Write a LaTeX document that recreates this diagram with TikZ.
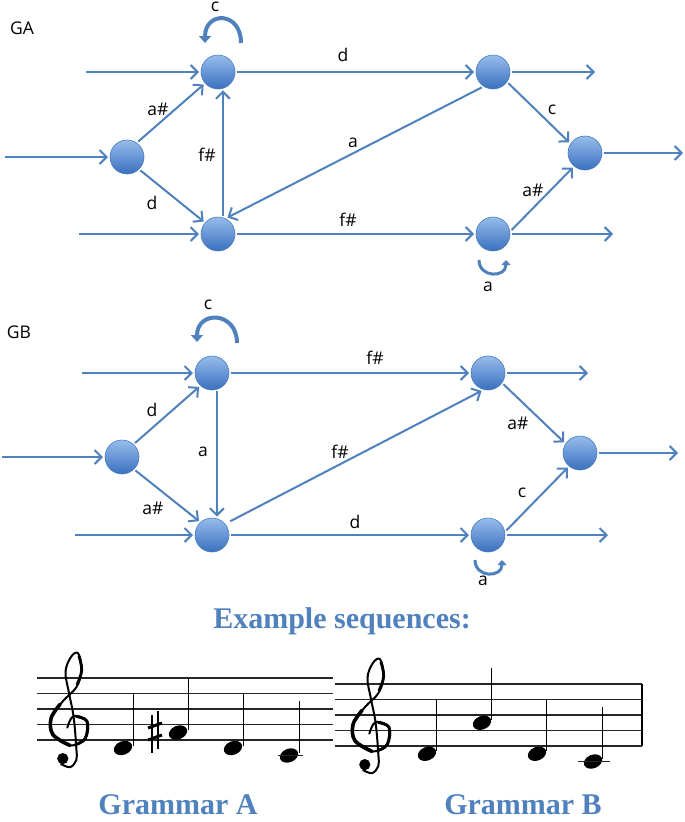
\documentclass[tikz,border=0pt]{standalone}
\usepackage{fontspec}
\setmainfont{Liberation Serif}
\newfontfamily\labfont{Open Sans}
\usetikzlibrary{arrows.meta,shapes.geometric}
\definecolor{edgeblue}{RGB}{79,129,189}
\definecolor{ballTop}{RGB}{150,188,236}
\definecolor{ballBot}{RGB}{58,112,190}
\definecolor{ballRim}{RGB}{74,126,187}
\definecolor{titleblue}{RGB}{79,129,189}
\tikzset{
  state/.style={circle, minimum size=34pt, inner sep=0pt, top color=ballTop, bottom color=ballBot, draw=ballRim, line width=0.6pt, outer sep=2pt},
  edge/.style={draw=edgeblue, line width=2pt, -{Straight Barb[length=7pt,width=14pt]}},
  lbl/.style={font=\labfont\fontsize{17.5}{19}\selectfont, text=black, inner sep=0pt},
  bigloop/.style={draw=edgeblue, line width=4pt, -{Triangle[length=7pt,width=12pt]}},
  smallloop/.style={draw=edgeblue, line width=3pt, -{Triangle[length=5pt,width=9pt]}},
  title/.style={font=\fontsize{30}{34}\selectfont\bfseries, text=titleblue, inner sep=0pt},
  staffline/.style={draw=black!85, line width=1.3pt},
  notehead/.style={ellipse, fill=black, minimum width=19pt, minimum height=13.5pt, inner sep=0pt, rotate=22},
  stem/.style={draw=black, line width=1.3pt},
  trebleclef/.pic={
    \begin{scope}[x=18pt,y=15.5pt, line cap=round, line join=round]
      \draw[line width=2pt] plot[smooth, tension=0.6] coordinates {(-0.15,0.8) (0.2,1.55) (0.95,1.2) (0.85,0.1) (0,-0.35) (-0.95,0.35) (-1.05,1.4) (-0.4,2.5) (0.35,3.4) (0.65,4.5) (0.45,5.6) (0.05,5.35) (-0.25,4.4) (-0.05,3.0) (0.2,1.5) (0.35,-0.5) (0.35,-1.3) (0,-1.75) (-0.5,-1.55)};
      \draw[line width=3.6pt] plot[smooth, tension=0.6] coordinates {(0.0,-0.35) (-0.95,0.35) (-1.05,1.4) (-0.55,2.3)};
      \draw[line width=3pt] plot[smooth, tension=0.6] coordinates {(0.35,1.52) (0.95,1.2) (0.85,0.1) (0.3,-0.3)};
      \draw[line width=2.8pt] plot[smooth, tension=0.6] coordinates {(0.4,3.6) (0.65,4.5) (0.5,5.4)};
      \fill (-0.4,-1.2) circle[radius=5.6pt];
    \end{scope}
  }
}
\begin{document}
\begin{tikzpicture}[x=1pt,y=-1pt]
\useasboundingbox (0,0) rectangle (685,822);
\fill[white] (0,0) rectangle (685,822);

% ================= GA =================
\node[lbl] (gaName) at (22,28) {GA};
\node[state] (gaS) at (127,157) {};
\node[state] (gaU) at (218,72) {};
\node[state] (gaL) at (218,234) {};
\node[state] (gaR1) at (493,72) {};
\node[state] (gaR2) at (585,153) {};
\node[state] (gaR3) at (493,234) {};
\coordinate (gaIn1) at (86,72);
\coordinate (gaIn2) at (5,157);
\coordinate (gaIn3) at (79,234);
\coordinate (gaOut1) at (595,72);
\coordinate (gaOut2) at (683,153);
\coordinate (gaOut3) at (613,234);

\draw[edge] (gaIn1) -- (gaU);
\draw[edge] (gaIn2) -- (gaS);
\draw[edge] (gaIn3) -- (gaL);
\draw[edge] (gaS.54) -- (gaU.221);
\draw[edge] (gaS.315) -- (gaL.139);
\draw[edge] (gaL.75) -- (gaU.285);
\draw[edge] (gaU) -- (gaR1);
\draw[edge] (gaR1.234) -- (gaL.60);
\draw[edge] (gaL) -- (gaR3);
\draw[edge] (gaR1.324) -- (gaR2.146);
\draw[edge] (gaR3.12) -- (gaR2.230);
\draw[edge] (gaR1) -- (gaOut1);
\draw[edge] (gaR2) -- (gaOut2);
\draw[edge] (gaR3) -- (gaOut3);
\draw[bigloop] ([shift={(23,-29)}]gaU.center) .. controls +(0,-32) and +(0,-32) .. ([shift={(-13,-29)}]gaU.center);
\draw[smallloop] ([shift={(-14,26)}]gaR3.center) .. controls +(0,18) and +(0,18) .. ([shift={(13,26)}]gaR3.center);

\node[lbl] (gaLc) at (215,7) {c};
\node[lbl] (gaLsu) at (158,109) {a\#};
\node[lbl] (gaLsl) at (152,203) {d};
\node[lbl] (gaLlu) at (207,155) {f\#};
\node[lbl] (gaLur) at (343,55) {d};
\node[lbl] (gaLrl) at (353,143) {a};
\node[lbl] (gaLlr) at (348,220) {f\#};
\node[lbl] (gaLr12) at (552,110) {c};
\node[lbl] (gaLr32) at (533,190) {a\#};
\node[lbl] (gaLa) at (488,287) {a};

% ================= GB =================
\node[lbl] (gbName) at (19,332) {GB};
\node[state] (gbS) at (122,457) {};
\node[state] (gbU) at (212,373) {};
\node[state] (gbL) at (212,535) {};
\node[state] (gbR1) at (488,373) {};
\node[state] (gbR2) at (580,453) {};
\node[state] (gbR3) at (488,535) {};
\coordinate (gbIn1) at (82,373);
\coordinate (gbIn2) at (2,457);
\coordinate (gbIn3) at (75,535);
\coordinate (gbOut1) at (588,373);
\coordinate (gbOut2) at (678,453);
\coordinate (gbOut3) at (608,535);

\draw[edge] (gbIn1) -- (gbU);
\draw[edge] (gbIn2) -- (gbS);
\draw[edge] (gbIn3) -- (gbL);
\draw[edge] (gbS.47) -- (gbU.227);
\draw[edge] (gbS.315) -- (gbL.133);
\draw[edge] (gbU.285) -- (gbL.75);
\draw[edge] (gbU) -- (gbR1);
\draw[edge, shorten <=4pt] (gbL.39) -- (gbR1.250);
\draw[edge] (gbL) -- (gbR3);
\draw[edge] (gbR1.324) -- (gbR2.146);
\draw[edge] (gbR3.14) -- (gbR2.230);
\draw[edge] (gbR1) -- (gbOut1);
\draw[edge] (gbR2) -- (gbOut2);
\draw[edge] (gbR3) -- (gbOut3);
\draw[bigloop] ([shift={(25,-30)}]gbU.center) .. controls +(0,-32) and +(0,-32) .. ([shift={(-15,-31)}]gbU.center);
\draw[smallloop] ([shift={(-13,25)}]gbR3.center) .. controls +(0,18) and +(0,18) .. ([shift={(14,25)}]gbR3.center);

\node[lbl] (gbLc) at (208,305) {c};
\node[lbl] (gbLsu) at (152,410) {d};
\node[lbl] (gbLsl) at (153,508) {a\#};
\node[lbl] (gbLul) at (203,452) {a};
\node[lbl] (gbLur) at (375,358) {f\#};
\node[lbl] (gbLlr1) at (340,452) {f\#};
\node[lbl] (gbLlr) at (355,522) {d};
\node[lbl] (gbLr12) at (518,423) {a\#};
\node[lbl] (gbLr32) at (522,493) {c};
\node[lbl] (gbLa) at (483,581) {a};

% ================= Titles =================
\node[title, anchor=base] (ex) at (342,628) {Example sequences:};
\node[title, anchor=base] (gra) at (178,814) {Grammar A};
\node[title, anchor=base] (grb) at (523,814) {Grammar B};

% ================= Staff A =================
\foreach \yy in {678,693.5,709,724.5,740} \draw[staffline] (37,\yy) -- (333,\yy);
\pic at (70,740) {trebleclef};
\node[notehead] (a1) at (123,748) {};
\node[notehead] (a2) at (178,732.5) {};
\node[notehead] (a3) at (233,748) {};
\node[notehead] (a4) at (289,755.5) {};
\draw[stem] (133.5,746) -- (133.5,694);
\draw[stem] (188.5,730) -- (188.5,678);
\draw[stem] (243.5,746) -- (243.5,694);
\draw[stem] (299.5,753) -- (299.5,701);
\draw[staffline] (278,755.5) -- (303,755.5);
% sharp
\draw[line width=1.2pt] (152,715) -- (152,753);
\draw[line width=1.2pt] (158,711) -- (158,749);
\draw[line width=3pt] (148,728) -- (162,723);
\draw[line width=3pt] (148,740) -- (162,735);

% ================= Staff B =================
\foreach \yy in {684,699.5,715,730.5,746} \draw[staffline] (335,\yy) -- (642,\yy);
\draw[line width=1.8pt] (642,684) -- (642,746);
\pic at (372,746) {trebleclef};
\node[notehead] (b1) at (427,753.75) {};
\node[notehead] (b2) at (482,722.75) {};
\node[notehead] (b3) at (537,753.75) {};
\node[notehead] (b4) at (593,761.5) {};
\draw[stem] (436.5,751) -- (436.5,699);
\draw[stem] (491.5,720) -- (491.5,668);
\draw[stem] (546.5,751) -- (546.5,699);
\draw[stem] (602.5,759) -- (602.5,707);
\draw[staffline] (578,761.5) -- (610,761.5);
\end{tikzpicture}
\end{document}
